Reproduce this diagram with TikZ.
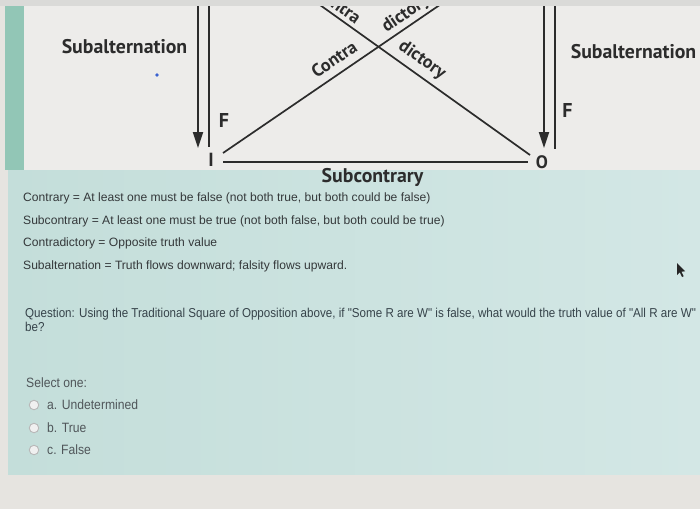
\documentclass[tikz,border=0pt]{standalone}
\usepackage{fontspec}
\setmainfont{Liberation Sans}
\newfontfamily\labfont{PT Sans}
\newfontfamily\qfont[FakeStretch=0.9]{Liberation Sans}
\usetikzlibrary{arrows.meta}
\definecolor{topbar}{HTML}{DADAD8}
\definecolor{diagbg}{HTML}{EDECEA}
\definecolor{strip}{HTML}{92C6B6}
\definecolor{tealL}{HTML}{C4DEDA}
\definecolor{tealR}{HTML}{D3E7E5}
\definecolor{bottombg}{HTML}{E6E4E0}
\definecolor{ink}{HTML}{2C2C2C}
\definecolor{bodyink}{HTML}{34383A}
\definecolor{qink}{HTML}{36434A}
\definecolor{optink}{HTML}{50565A}
\definecolor{dotblue}{HTML}{3A62D0}
\begin{document}
\begin{tikzpicture}[x=1pt,y=-1pt,
  biglab/.style={font=\labfont\bfseries\fontsize{19.8}{20}\selectfont, text=ink, inner sep=0pt},
  diaglab/.style={font=\labfont\bfseries\fontsize{18}{18}\selectfont, text=ink, inner sep=0pt},
  cornerlab/.style={font=\labfont\bfseries\fontsize{19}{19}\selectfont, text=ink, inner sep=0pt},
  vert/.style={draw=ink, line width=2pt},
  rel/.style={draw=ink, line width=1.7pt},
  body/.style={font=\fontsize{12.1}{14}\selectfont, text=bodyink, anchor=base west, inner sep=0pt},
  qtext/.style={font=\qfont\fontsize{12.9}{14}\selectfont, text=qink, anchor=base west, inner sep=0pt},
  opt/.style={font=\qfont\fontsize{13.5}{15}\selectfont, text=optink, anchor=base west, inner sep=0pt},
  radio/.style={circle, draw=black!28, fill=black!6, line width=0.9pt, minimum size=9.5pt, inner sep=0pt}
]
\useasboundingbox (0,0) rectangle (700,509);
\clip (0,0) rectangle (700,509);
% backgrounds
\fill[bottombg] (0,0) rectangle (700,509);
\fill[topbar] (0,0) rectangle (700,6);
\shade[left color=tealL, right color=tealR] (8,170) rectangle (700,474);
\fill[strip] (5,6) rectangle (24,170);
\fill[diagbg] (24,6) rectangle (700,170);

\begin{scope}
\clip (24,6) rectangle (700,170);
% corner nodes
\node[cornerlab] (I) at (211,160) {I};
\node[cornerlab, font=\labfont\bfseries\fontsize{18}{18}\selectfont] (O) at (542,162) {O};
% named coordinates
\coordinate (LA1) at (198,0);  \coordinate (LA2) at (198,148);
\coordinate (LB1) at (209,0);  \coordinate (LB2) at (209,147);
\coordinate (RA1) at (544,0);  \coordinate (RA2) at (544,148);
\coordinate (RB1) at (555,0);  \coordinate (RB2) at (555,149);
\coordinate (Irise) at (223,153); \coordinate (RiseTop) at (447,0);
\coordinate (Ofall) at (530,155); \coordinate (FallTop) at (313,0);
\coordinate (Ibase) at (223,162); \coordinate (Obase) at (528,162);
% subalternation arrows
\draw[vert, -{Triangle[length=16pt,width=10pt]}] (LA1) -- (LA2);
\draw[vert] (LB1) -- (LB2);
\draw[vert, -{Triangle[length=16pt,width=10pt]}] (RA1) -- (RA2);
\draw[vert] (RB1) -- (RB2);
% diagonals and subcontrary
\draw[rel] (Irise) -- (RiseTop);
\draw[rel] (FallTop) -- (Ofall);
\draw[rel] (Ibase) -- (Obase);
% labels
\node[biglab] (subL) at (124.5,47) {Subalternation};
\node[biglab] (subR) at (633.5,52) {Subalternation};
\node[cornerlab, font=\labfont\bfseries\fontsize{20}{20}\selectfont] (FL) at (224,120.5) {F};
\node[cornerlab, font=\labfont\bfseries\fontsize{20}{20}\selectfont] (FR) at (567.5,110.5) {F};
\node[diaglab, rotate=34] (con1) at (334,59) {Contra};
\node[diaglab, rotate=-35] (dic1) at (422,60) {dictory};
\node[diaglab, rotate=-35] (con2) at (338.5,4.5) {Contra};
\node[diaglab, rotate=34] (dic2) at (406,14) {dictory};
\fill[dotblue] (157,75) circle (1.8);
\end{scope}
\node[biglab] (subcon) at (372.5,177) {Subcontrary};

% definitions
\node[body] (d1) at (23,201) {Contrary = At least one must be false (not both true, but both could be false)};
\node[body] (d2) at (23,224) {Subcontrary = At least one must be true (not both false, but both could be true)};
\node[body] (d3) at (23,246.5) {Contradictory = Opposite truth value};
\node[body] (d4) at (23,269.5) {Subalternation = Truth flows downward; falsity flows upward.};
% cursor
\fill[black!85] (677,263) -- (677,275) -- (679.8,272.3) -- (682,277) -- (683.6,276.2) -- (681.4,271.6) -- (685.2,271.4) -- cycle;

% question
\node[qtext] (q1) at (25,317) {Question: Using the Traditional Square of Opposition above, if "Some R are W" is false, what would the truth value of "All R are W"};
\node[qtext] (q2) at (25,331) {be?};
\node[opt] (sel) at (26,387) {Select one:};
\node[radio] (ra) at (34,405) {};
\node[radio] (rb) at (34,428) {};
\node[radio] (rc) at (34,450) {};
\node[opt] (oa) at (47,409) {a. Undetermined};
\node[opt] (ob) at (47,432) {b. True};
\node[opt] (oc) at (47,454) {c. False};
\end{tikzpicture}
\end{document}
